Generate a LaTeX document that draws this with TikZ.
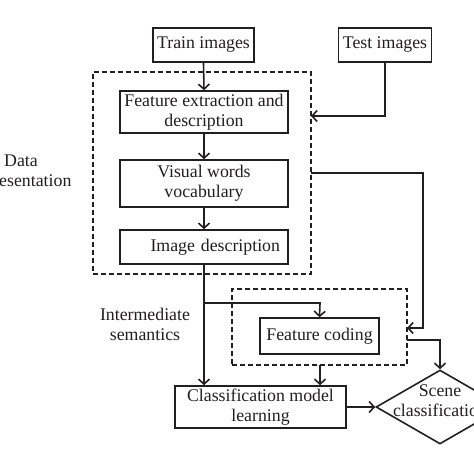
\documentclass[tikz,border=0pt]{standalone}
\usepackage{fontspec}
\setmainfont{Liberation Serif}
\usetikzlibrary{arrows.meta,shapes.geometric}
\definecolor{ink}{RGB}{35,31,32}
\begin{document}
\begin{tikzpicture}[x=1pt,y=-1pt,
  every node/.style={text=ink,font=\fontsize{17.8}{20}\selectfont},
  boxnode/.style={draw=ink,line width=1.6pt,inner sep=0pt,align=center},
  dashbox/.style={draw=ink,line width=2.2pt,dash pattern=on 5pt off 3pt,inner sep=0pt,fill=none},
  conn/.style={draw=ink,line width=1.6pt},
  arr/.style={conn,-{Straight Barb[length=5pt,width=11pt,line width=1.6pt]}},
  lbl/.style={align=center,inner sep=0pt}]
\useasboundingbox (0,0) rectangle (474,474);
\fill[white] (0,0) rectangle (474,474);
% dashed groups
\node[dashbox,minimum width=218pt,minimum height=202pt] (grpA) at (202,173) {};
\node[dashbox,minimum width=175pt,minimum height=76pt] (grpB) at (319.5,327) {};
% boxes
\node[boxnode,minimum width=101pt,minimum height=34pt] (train) at (203.5,45) {Train images};
\node[boxnode,minimum width=93pt,minimum height=34pt] (test) at (385,45) {Test images};
\node[boxnode,minimum width=168pt,minimum height=42pt] (fe) at (204,112) {Feature extraction and\\description};
\node[boxnode,minimum width=168pt,minimum height=47pt] (vw) at (204,183.5) {Visual words\\vocabulary};
\node[boxnode,minimum width=168pt,minimum height=34pt,text width=152pt,inner xsep=8pt,align=right] (id) at (204,247) {Image description};
\node[boxnode,minimum width=119pt,minimum height=36pt] (fc) at (319.5,336) {Feature coding};
\node[boxnode,minimum width=171pt,minimum height=42pt] (cml) at (260.5,407) {Classification model\\learning};
\node[diamond,draw=ink,line width=1.6pt,minimum width=128pt,minimum height=74pt,inner sep=0pt] (sc) at (440,407) {};
\node[lbl] (sctext) at (440,401) {Scene\\classification};
% side labels
\node[lbl] (datalbl) at (21,173) {Data\\representation};
\node[lbl] (intlbl) at (145,324) {Intermediate\\semantics};
% coordinates
\coordinate (testturn) at (385,116);
\coordinate (aIn) at (311,116);
\coordinate (aOut) at (311,173);
\coordinate (c1) at (423,173);
\coordinate (c2) at (423,328);
\coordinate (bIn) at (407,328);
\coordinate (branch) at (204,303);
\coordinate (bturn) at (320,303);
\coordinate (bBot) at (320,365);
\coordinate (bOut) at (407,340);
\coordinate (dturn) at (440,340);
% connectors
\draw[arr] (train.south) -- (fe.north);
\draw[arr] (fe.south) -- (vw.north);
\draw[arr] (vw.south) -- (id.north);
\draw[arr] (test.south) -- (testturn) -- (aIn);
\draw[arr] (aOut) -- (c1) -- (c2) -- (bIn);
\draw[arr] (id.south) -- (id.south |- cml.north);
\draw[arr] (branch) -- (bturn) -- (fc.north);
\draw[arr] (bBot) -- (bBot |- cml.north);
\draw[arr] (cml.east) -- (sc.west);
\draw[arr] (bOut) -- (dturn) -- (sc.north);
\end{tikzpicture}
\end{document}
